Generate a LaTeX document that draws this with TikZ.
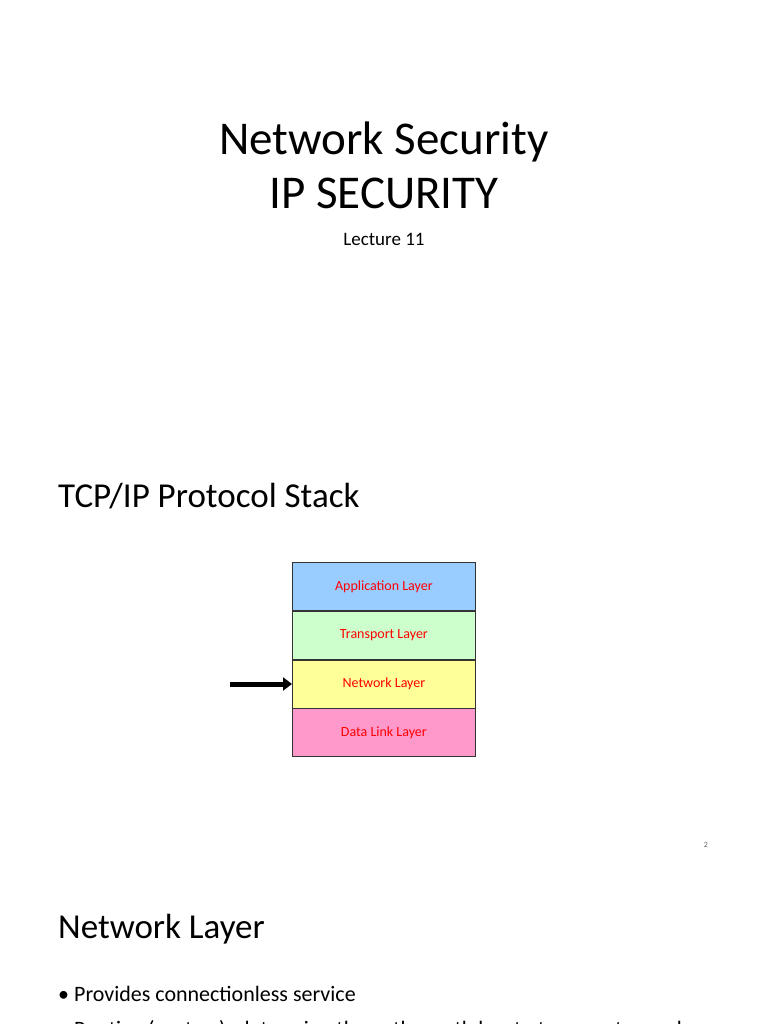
\documentclass[tikz,border=0pt]{standalone}
\usepackage{fontspec}
\setmainfont{Carlito}
\usetikzlibrary{arrows.meta}
\definecolor{appc}{HTML}{99CCFF}
\definecolor{trc}{HTML}{CCFFCC}
\definecolor{netc}{HTML}{FFFF99}
\definecolor{dlc}{HTML}{FF99CC}
\definecolor{lred}{HTML}{FF0000}
\begin{document}
\begin{tikzpicture}[x=1pt,y=-1pt,
  layer/.style={draw=black!80,line width=0.8pt,minimum width=183pt,minimum height=48pt,inner sep=0pt,text=lred,font=\fontsize{14}{16}\selectfont},
  ttl/.style={anchor=west,inner sep=0pt,font=\fontsize{35}{42}\selectfont}]
\useasboundingbox (0,0) rectangle (768,1024);
\clip (0,0) rectangle (768,1024);
\node[font=\fontsize{47}{54}\selectfont,align=center] (t1) at (384,165) {Network Security\\IP SECURITY};
\node[font=\fontsize{19}{22}\selectfont] (lec) at (384,239) {Lecture 11};
\node[ttl] (t2) at (58,496) {TCP/IP Protocol Stack};
\node[layer,fill=appc,anchor=north west] (app) at (292,562) {Application Layer};
\node[layer,fill=trc,anchor=north] (tr) at (app.south) {Transport Layer};
\node[layer,fill=netc,anchor=north] (net) at (tr.south) {Network Layer};
\node[layer,fill=dlc,anchor=north] (dl) at (net.south) {Data Link Layer};
\coordinate (as) at ([xshift=-62pt]net.west);
\draw[line width=5pt,-{Triangle[length=9pt,width=13pt]}] (as) -- (net.west);
\node[font=\fontsize{8}{9}\selectfont,text=black!60] (pg) at (706,845) {2};
\node[ttl] (t3) at (58,929) {Network Layer};
\node[anchor=west,inner sep=0pt,font=\fontsize{22}{26}\selectfont] (b1) at (58,994) {• Provides connectionless service};
\node[anchor=west,inner sep=0pt,font=\fontsize{22}{26}\selectfont] (b2) at (58,1030) {• Routing (routers): determine the path a path has to traverse to reach};
\end{tikzpicture}
\end{document}
